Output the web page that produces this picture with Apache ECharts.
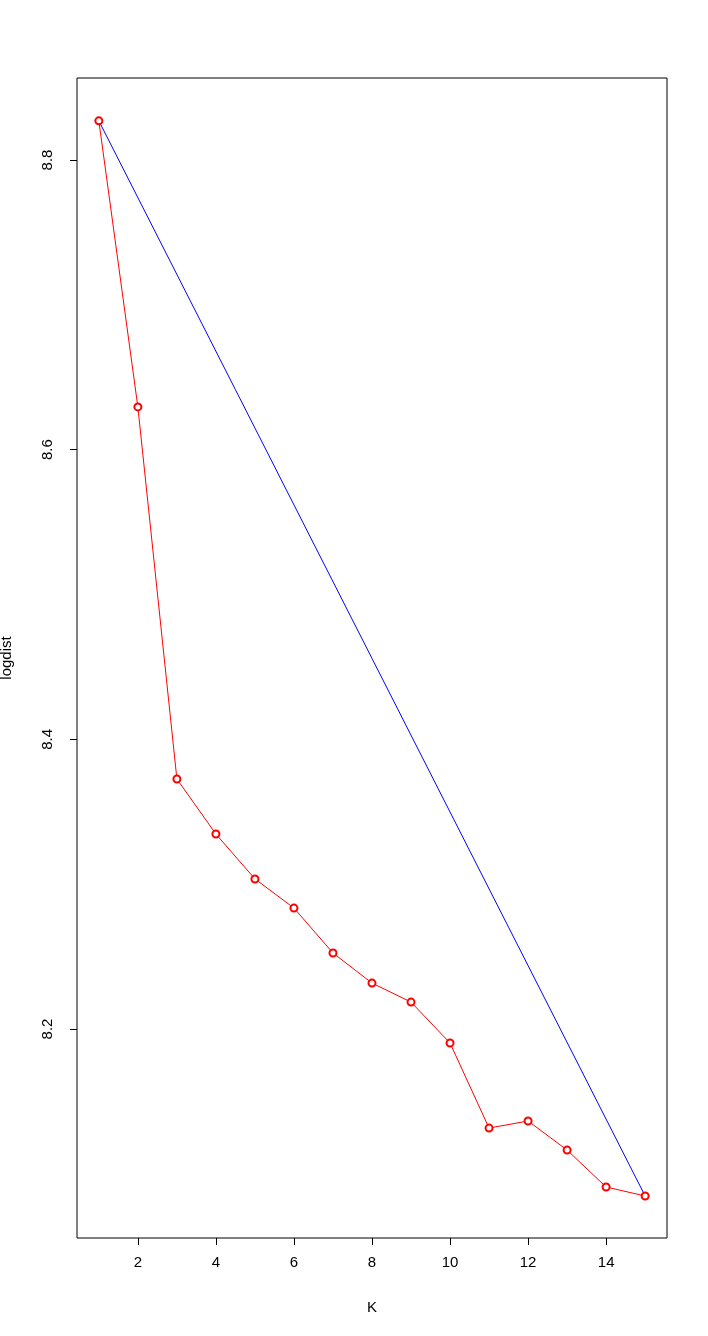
<!DOCTYPE html>
<html><head><meta charset="utf-8">
<script src="https://cdn.jsdelivr.net/npm/echarts@6/dist/echarts.min.js"></script>
<style>html,body{margin:0;padding:0;background:#fff}#c{width:708px;height:1336px}</style>
</head><body><div id="c"></div>
<script>
const kValues = [1,2,3,4,5,6,7,8,9,10,11,12,13,14,15];
const logdist = [8.827,8.6295,8.3726,8.3346,8.3036,8.2835,8.2525,8.2317,8.2186,8.1903,8.1316,8.1365,8.1164,8.0909,8.0847];
const xTicks = [2,4,6,8,10,12,14];
const yTicks = [8.2,8.4,8.6,8.8];
const redData = kValues.map((k,i)=>[k,logdist[i]]);
const blueData = [[kValues[0],logdist[0]],[kValues[kValues.length-1],logdist[logdist.length-1]]];
const font = 'Liberation Sans, Arial, sans-serif';
const chart = echarts.init(document.getElementById('c'));
chart.setOption({
  animation:false,
  grid:{left:77,right:41,top:78,bottom:98,containLabel:false,outerBoundsMode:'none',show:true,borderColor:'#000',borderWidth:1,backgroundColor:'transparent'},
  xAxis:{type:'value',min:0.44,max:15.56,name:'K',nameLocation:'middle',nameGap:62,
    nameTextStyle:{fontFamily:font,fontSize:15,color:'#000'},
    splitLine:{show:false},axisLine:{show:false},
    axisTick:{show:true,length:7,inside:false,customValues:xTicks,lineStyle:{color:'#000'}},
    axisLabel:{customValues:xTicks,margin:17,fontFamily:font,fontSize:15,color:'#000'}},
  yAxis:{type:'value',min:8.0557,max:8.8566,name:'logdist',nameLocation:'middle',nameGap:63,
    nameTextStyle:{fontFamily:font,fontSize:15,color:'#000'},
    splitLine:{show:false},axisLine:{show:false},
    axisTick:{show:true,length:7,inside:false,customValues:yTicks,lineStyle:{color:'#000'}},
    axisLabel:{customValues:yTicks,rotate:90,margin:22,fontFamily:font,fontSize:15,color:'#000',
      formatter:v=>v.toFixed(1)}},
  series:[
    {type:'line',data:blueData,symbol:'none',lineStyle:{color:'#0000ff',width:1},z:2},
    {type:'line',data:redData,symbol:'emptyCircle',symbolSize:7,showAllSymbol:true,
      itemStyle:{color:'#ff0000',borderWidth:1},
      lineStyle:{color:'#ff0000',width:1},z:3}
  ]
});
</script></body></html>
